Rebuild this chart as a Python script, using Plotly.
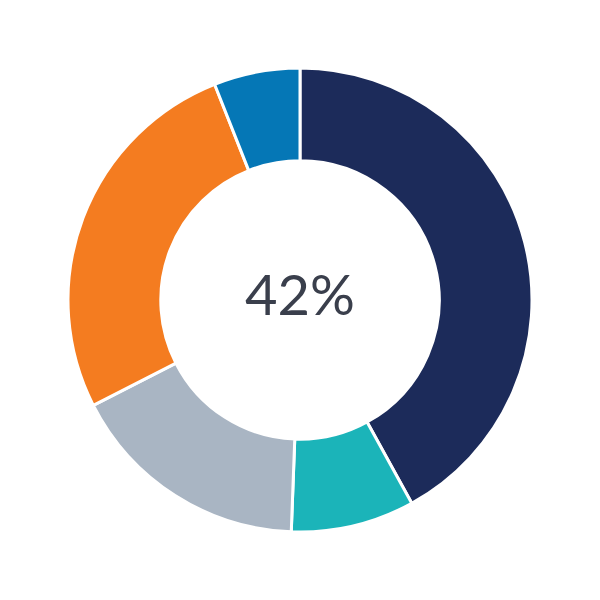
import plotly.graph_objects as go

labels = ["A", "B", "C", "D", "E"]
values = [42, 8.6, 16.9, 26.5, 6]
colors = ["#1c2b5a", "#1bb4b9", "#a9b5c3", "#f47c20", "#0577b6"]
center_text = "42%"

fig = go.Figure()
fig.add_trace(go.Pie(
    labels=labels,
    values=values,
    hole=0.6,
    sort=False,
    direction="clockwise",
    rotation=0,
    textinfo="none",
    hoverinfo="label+percent",
    marker=dict(colors=colors, line=dict(color="white", width=3)),
    showlegend=False,
))
fig.add_annotation(
    text=center_text, x=0.5, y=0.515, xref="paper", yref="paper",
    showarrow=False, font=dict(family="Lato", size=56, color="#3a3f4c"),
)
fig.update_layout(
    width=600, height=600,
    margin=dict(l=60, r=76, t=60, b=76),
    paper_bgcolor="white", plot_bgcolor="white",
)
fig.write_html("out.html")
